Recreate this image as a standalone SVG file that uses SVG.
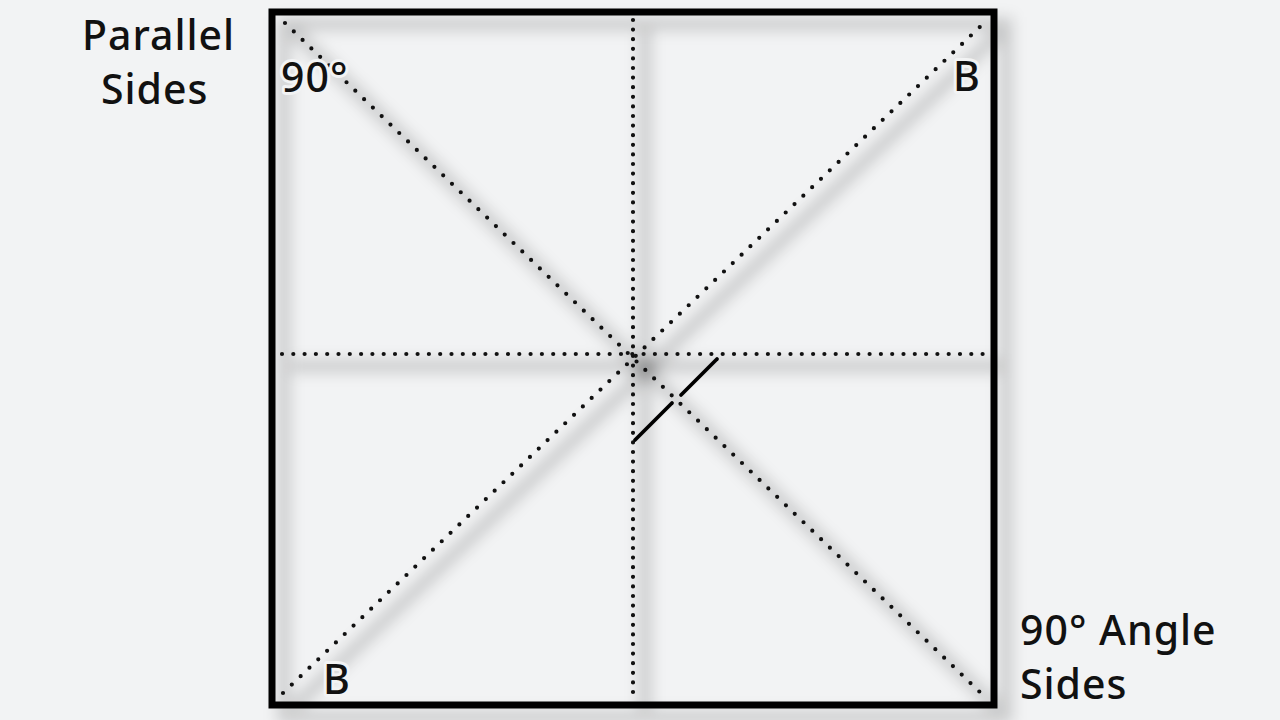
<svg xmlns="http://www.w3.org/2000/svg" width="1280" height="720" viewBox="0 0 1280 720">
<defs>
<filter id="blur" x="-10%" y="-10%" width="120%" height="120%"><feGaussianBlur stdDeviation="7"/></filter>
<style>
.lbl{font-family:"Noto Sans","Open Sans",sans-serif;font-size:41px;letter-spacing:1px;fill:#111;font-weight:500;}
.halo{stroke:#f2f3f4;stroke-width:6;paint-order:stroke;stroke-linejoin:round;}
.dot{fill:none;stroke:#111;stroke-width:4.2;stroke-linecap:round;}
.sh{fill:none;stroke:#000;stroke-width:14;opacity:0.15;}
</style>
</defs>
<rect width="1280" height="720" fill="#f2f3f4"/>
<g id="shadows" filter="url(#blur)" transform="translate(12,12)">
<rect class="sh" x="272" y="12" width="722" height="693"/>
<line class="sh" x1="280" y1="18" x2="986" y2="697" stroke-width="10"/>
<line class="sh" x1="282" y1="695" x2="988" y2="20" stroke-width="10"/>
<line class="sh" x1="633" y1="18" x2="633" y2="698" stroke-width="10"/>
<line class="sh" x1="280" y1="354" x2="988" y2="354" stroke-width="10"/>
</g>
<g id="square">
<rect x="272" y="12" width="722" height="693" fill="none" stroke="#000" stroke-width="7"/>
</g>
<g id="connectors">
<line class="dot" x1="285" y1="23" x2="985" y2="697" stroke-dasharray="0 12.2"/>
<line class="dot" x1="283" y1="693" x2="985" y2="22" stroke-dasharray="0 12.2"/>
<line class="dot" x1="633" y1="20" x2="633" y2="698" stroke-dasharray="0 9.6"/>
<line class="dot" x1="282" y1="354" x2="986" y2="354" stroke-dasharray="0 11.3"/>
<g stroke="#000" stroke-width="3.8" stroke-linecap="round">
<line x1="635" y1="440" x2="672" y2="403"/>
<line x1="681" y1="395" x2="717" y2="359"/>
</g>
</g>
<g id="labels">
<text class="lbl" x="82" y="50">Parallel</text>
<text class="lbl" x="101" y="104">Sides</text>
<text class="lbl halo" x="281" y="92">90°</text>
<text class="lbl halo" x="953" y="91">B</text>
<text class="lbl halo" x="323" y="694">B</text>
<text class="lbl" x="1020" y="645">90° Angle</text>
<text class="lbl" x="1020" y="699">Sides</text>
</g>
</svg>
